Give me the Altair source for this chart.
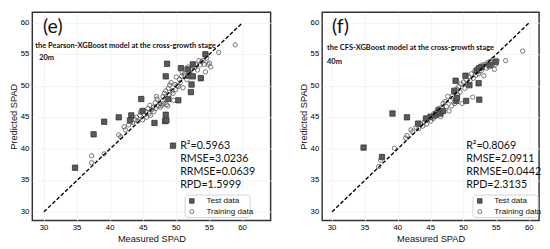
import altair as alt
import pandas as pd

# ---------------- data ----------------
# Panel (e): Pearson-XGBoost, 20 m
e_test_x = [34.7, 37.5, 39.1, 41.3, 43.2, 43.0, 44.7, 44.9, 46.7, 48.4, 48.3, 48.5, 49.5, 48.8, 50.3,
            48.6, 48.4, 50.7, 52.5, 54.4, 51.8, 51.9, 52.3, 52.2, 53.7, 52.5]
e_test_y = [37.0, 42.3, 44.3, 45.0, 45.3, 44.5, 47.9, 46.0, 44.1, 45.4, 44.4, 44.5, 40.5, 47.9, 47.7,
            53.5, 51.5, 52.8, 53.4, 55.0, 52.6, 51.6, 50.2, 49.0, 51.2, 51.5]
e_train_x = [37.2, 37.2, 39.1, 41.3, 41.6, 42.1, 42.3, 42.8, 43.4, 43.8, 44.0, 44.2, 44.5, 44.6, 44.9,
             45.0, 45.2, 45.4, 45.5, 45.7, 45.9, 46.0, 46.1, 46.3, 46.5, 46.6, 46.8, 46.9, 47.0, 47.1,
             47.3, 47.5, 47.6, 47.8, 47.9, 48.0, 48.1, 48.2, 48.4, 48.5, 48.7, 48.8, 48.9, 49.0, 49.2,
             49.4, 49.5, 49.6, 49.8, 49.9, 50.0, 50.1, 50.3, 50.5, 50.6, 50.8, 50.9, 51.0, 51.2, 51.3,
             51.5, 51.6, 51.8, 52.0, 52.2, 52.4, 52.6, 52.8, 53.0, 53.2, 53.4, 53.6, 53.8, 54.0, 54.2,
             54.4, 54.6, 54.8, 55.0, 55.2, 56.4, 58.9]
e_train_y = [38.9, 37.8, 39.2, 42.2, 41.9, 43.5, 43.0, 43.8, 44.2, 44.6, 45.0, 44.4, 45.3, 45.8, 44.6,
             46.1, 45.4, 45.9, 45.0, 46.4, 45.6, 46.9, 45.3, 46.2, 46.6, 45.9, 47.3, 46.4, 48.3, 47.9,
             46.8, 47.2, 46.6, 46.9, 47.6, 48.3, 47.2, 48.8, 49.2, 47.0, 46.8, 49.6, 48.6, 50.1, 50.5,
             49.2, 48.8, 47.7, 50.2, 49.4, 51.4, 50.0, 49.9, 51.0, 50.5, 51.5, 52.2, 49.7, 51.6, 52.0,
             52.7, 51.0, 53.0, 52.0, 52.6, 51.7, 53.5, 52.9, 53.3, 52.5, 54.0, 53.3, 53.8, 54.0, 53.4,
             52.2, 54.4, 53.4, 53.6, 53.0, 55.3, 56.5]

# Panel (f): CFS-XGBoost, 40 m
f_test_x = [34.8, 37.6, 39.2, 41.4, 43.1, 44.3, 45.0, 45.8, 46.2, 46.5, 46.9, 48.8, 50.3, 48.6, 48.9,
            50.4, 52.4, 52.3, 50.9, 52.75, 54.0, 54.9, 52.0, 49.0, 52.4]
f_test_y = [40.2, 38.7, 45.6, 45.0, 44.0, 44.8, 45.1, 45.4, 46.1, 45.6, 46.0, 50.8, 51.6, 49.2, 47.6,
            47.6, 47.8, 50.4, 50.1, 53.0, 53.3, 53.8, 52.4, 48.1, 52.8]
f_train_x = [37.1, 37.4, 39.5, 41.2, 41.4, 42.0, 42.3, 42.8, 43.2, 43.5, 43.8, 44.0, 44.2, 44.4, 44.6,
             44.8, 45.0, 45.2, 45.4, 45.5, 45.7, 45.9, 46.0, 46.2, 46.4, 46.5, 46.7, 46.9, 47.0, 47.2,
             47.4, 47.6, 47.8, 48.0, 48.2, 48.3, 48.5, 48.7, 48.9, 49.1, 49.3, 49.5, 49.6, 49.8, 50.0,
             50.2, 50.4, 50.6, 50.8, 51.0, 51.2, 51.4, 51.5, 51.7, 51.9, 52.1, 52.3, 52.5, 52.7, 52.9,
             53.1, 53.3, 53.5, 53.7, 53.9, 54.1, 54.3, 54.5, 54.7, 54.9, 55.1, 56.4, 59.0]
f_train_y = [37.2, 38.2, 40.1, 41.7, 42.1, 43.0, 42.7, 43.4, 43.2, 43.9, 43.6, 44.3, 44.9, 43.9, 44.6,
             45.0, 44.4, 45.2, 44.8, 45.6, 45.1, 45.9, 45.3, 46.4, 45.8, 45.1, 46.6, 47.2, 46.1, 47.5,
             46.7, 48.3, 46.0, 47.6, 46.8, 48.4, 49.0, 47.2, 49.5, 48.6, 49.9, 49.0, 50.3, 47.2, 50.6,
             49.6, 51.0, 50.2, 51.4, 50.8, 51.9, 48.2, 51.2, 52.3, 51.7, 52.8, 51.9, 53.0, 52.4, 53.3,
             51.6, 53.4, 52.8, 53.7, 53.0, 53.9, 53.2, 54.2, 52.6, 53.4, 54.0, 54.0, 55.5]

series_names = ["Test data", "Training data"]
tick_values = [30, 35, 40, 45, 50, 55, 60]
diag_values = [30, 60]

panel_labels = ["(e)", "(f)"]
panel_titles = ["the Pearson-XGBoost model at the cross-growth stage",
                "the CFS-XGBoost model at the cross-growth stage"]
panel_heights = ["20m", "40m"]
panel_stats = ["R\u00b2=0.5963\nRMSE=3.0236\nRRMSE=0.0639\nRPD=1.5999",
               "R\u00b2=0.8069\nRMSE=2.0911\nRRMSE=0.0442\nRPD=2.3135"]

AX_FONT = "Liberation Sans"
TXT_FONT = "Lato"
TEST_FILL, TEST_STROKE, TRAIN_STROKE = "#5a5a5a", "#333333", "#555555"


def one(text):
    return pd.DataFrame({"t": [text]})


def panel(tx, ty, rx, ry, xdom, ydom, w, h, idx, lab_x, tit_x, h_x, stat_x, leg_x):
    xs = alt.Scale(domain=xdom, nice=False, zero=False)
    ys = alt.Scale(domain=ydom, nice=False, zero=False)
    ax_x = alt.Axis(values=tick_values, grid=True, labels=False, titlePadding=14)
    ax_y = alt.Axis(values=tick_values, grid=True, labels=False, titlePadding=14)

    def X(field):
        return alt.X(field, type="quantitative", scale=xs, title="Measured SPAD", axis=ax_x)

    def Y(field):
        return alt.Y(field, type="quantitative", scale=ys, title="Predicted SPAD", axis=ax_y)

    test = alt.Chart(pd.DataFrame({"x": tx, "y": ty})).mark_point(
        shape="square", filled=True, fill=TEST_FILL, stroke=TEST_STROKE, strokeWidth=0.8,
        size=30, opacity=1, clip=True).encode(x=X("x"), y=Y("y"))
    train = alt.Chart(pd.DataFrame({"x": rx, "y": ry})).mark_point(
        shape="circle", filled=False, stroke=TRAIN_STROKE, strokeWidth=0.8,
        size=20, opacity=1, clip=True).encode(x=X("x"), y=Y("y"))
    diag = alt.Chart(pd.DataFrame({"x": diag_values, "y": diag_values})).mark_line(
        color="black", strokeDash=[4, 2], strokeWidth=1.4).encode(x=X("x"), y=Y("y"))

    # tick labels, placed through the panel's scales
    tick_df = pd.DataFrame({"v": tick_values})
    xlab = alt.Chart(tick_df).mark_text(
        font=AX_FONT, fontSize=8, align="center", baseline="middle", color="#000").encode(
        x=X("v"), y=alt.value(h + 8), text=alt.Text("v:Q", format="d"))
    ylab = alt.Chart(tick_df).mark_text(
        font=AX_FONT, fontSize=8, align="right", baseline="middle", color="#000").encode(
        y=Y("v"), x=alt.value(-3), text=alt.Text("v:Q", format="d"))

    t_lab = alt.Chart(one(panel_labels[idx])).mark_text(
        font=TXT_FONT, fontSize=20, align="left", baseline="alphabetic", color="#111").encode(
        text="t:N", x=alt.value(lab_x), y=alt.value(21))
    t_tit = alt.Chart(one(panel_titles[idx])).mark_text(
        font=TXT_FONT, fontSize=7.7, fontWeight="bold", align="left", baseline="alphabetic", color="#111").encode(
        text="t:N", x=alt.value(tit_x), y=alt.value(37 + 2 * idx))
    t_h = alt.Chart(one(panel_heights[idx])).mark_text(
        font=TXT_FONT, fontSize=7.7, fontWeight="bold", align="left", baseline="alphabetic", color="#111").encode(
        text="t:N", x=alt.value(h_x), y=alt.value(49 + 4 * idx))
    t_st = alt.Chart(one(panel_stats[idx])).mark_text(
        font=TXT_FONT, fontSize=11, align="left", baseline="alphabetic", color="#111",
        lineBreak="\n", lineHeight=13.3).encode(
        text="t:N", x=alt.value(stat_x), y=alt.value(141))

    # legend box
    lb = alt.Chart(one("legend")).mark_rect(
        fill="white", stroke="#c8c8c8", strokeWidth=0.8, cornerRadius=3).encode(
        x=alt.value(leg_x), x2=alt.value(leg_x + 67), y=alt.value(h - 26), y2=alt.value(h - 3))
    ls1 = alt.Chart(one(series_names[0])).mark_point(
        shape="square", filled=True, fill=TEST_FILL, stroke=TEST_STROKE, strokeWidth=0.8, size=22, opacity=1).encode(
        x=alt.value(leg_x + 7), y=alt.value(h - 20))
    ls2 = alt.Chart(one(series_names[1])).mark_point(
        shape="circle", filled=False, stroke=TRAIN_STROKE, strokeWidth=0.8, size=18, opacity=1).encode(
        x=alt.value(leg_x + 7), y=alt.value(h - 9))
    lt1 = alt.Chart(one(series_names[0])).mark_text(
        font=AX_FONT, fontSize=8.3, align="left", baseline="middle", color="#111").encode(
        text="t:N", x=alt.value(leg_x + 22), y=alt.value(h - 20))
    lt2 = alt.Chart(one(series_names[1])).mark_text(
        font=AX_FONT, fontSize=8.3, align="left", baseline="middle", color="#111").encode(
        text="t:N", x=alt.value(leg_x + 22), y=alt.value(h - 9))

    return alt.layer(test, train, diag, xlab, ylab, t_lab, t_tit, t_h, t_st,
                     lb, ls1, ls2, lt1, lt2).properties(width=w, height=h)


left = panel(e_test_x, e_test_y, e_train_x, e_train_y, [28.24, 64.25], [28.64, 61.67],
             245, 214, 0, lab_x=11, tit_x=3, h_x=7, stat_x=152, leg_x=157)
right = panel(f_test_x, f_test_y, f_train_x, f_train_y, [28.5, 61.5], [28.64, 61.67],
              223, 214, 1, lab_x=10, tit_x=5, h_x=5, stat_x=148, leg_x=155)

chart = alt.hconcat(left, right, spacing=27).properties(
    padding={"left": 0, "top": 0, "right": 0, "bottom": 0}
).configure_view(stroke="#333333", strokeWidth=1.5).configure_axis(
    domain=False, ticks=False, gridColor="#efefef", gridWidth=0.8,
    titleFont=AX_FONT, titleFontSize=9.5, titleFontWeight="normal", titleColor="#111",
)

chart.save("out.html", embed_options={"renderer": "svg", "actions": False})
